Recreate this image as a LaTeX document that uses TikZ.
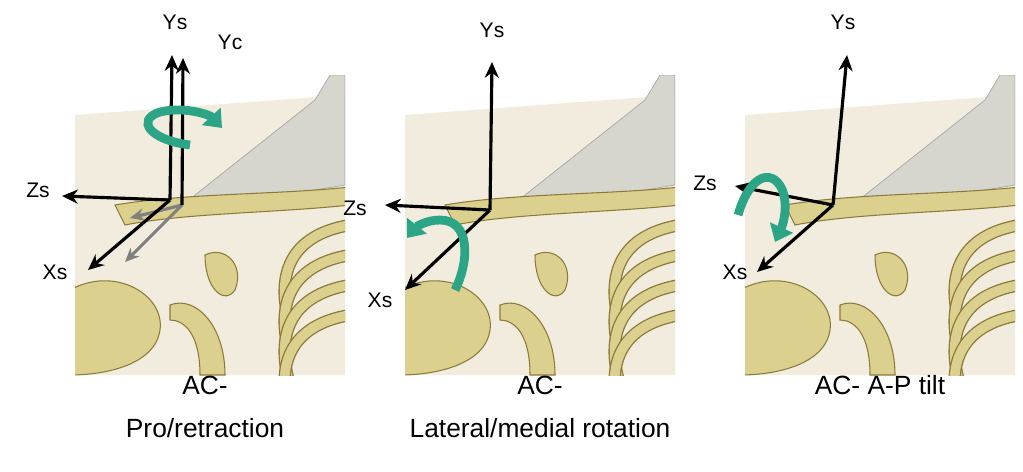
\documentclass[tikz,border=0pt]{standalone}
\usepackage{fontspec}
\setmainfont{Liberation Sans}
\usetikzlibrary{arrows.meta}
\definecolor{bone}{HTML}{DCD08E}
\definecolor{boneedge}{HTML}{8C7A3A}
\definecolor{scap}{HTML}{D6D6CE}
\definecolor{bg}{HTML}{F1ECDD}
\definecolor{rot}{HTML}{2BA585}
\tikzset{
 axis/.style={line width=1.8pt,-{Stealth[length=9pt,width=8pt]},black},
 gaxis/.style={line width=1.8pt,-{Stealth[length=8pt,width=7pt]},gray},
 lab/.style={font=\fontsize{12}{14}\selectfont},
 captext/.style={font=\fontsize{15}{18}\selectfont},
 rotarrow/.style={line width=5pt,rot,-{Triangle[length=9pt,width=14pt]}},
 bonefill/.style={fill=bone,draw=boneedge,line width=0.6pt}
}
\newcommand\bonepanel[1]{%
 \begin{scope}[shift={(#1,75)}]
  \clip (0,0) rectangle (270,300);
  \fill[bg] (0,40) -- (270,20) -- (270,300) -- (0,300) -- cycle;
  \filldraw[fill=scap,draw=gray!70] (110,128) -- (240,25) -- (255,0) -- (270,0) -- (270,110) -- (120,135) -- cycle;
  \filldraw[bonefill] (40,130) .. controls (110,118) and (200,120) .. (275,112) -- (275,130) .. controls (200,138) and (110,138) .. (50,150) -- cycle;
  \filldraw[bonefill] (-5,215) .. controls (40,190) and (90,220) .. (85,255) .. controls (80,290) and (30,300) .. (-5,300) -- cycle;
  \filldraw[bonefill] (130,180) .. controls (150,170) and (170,190) .. (160,215) .. controls (150,230) and (130,215) .. (130,180) -- cycle;
  \filldraw[bonefill] (95,230) .. controls (120,220) and (150,250) .. (150,300) -- (125,300) .. controls (125,260) and (110,245) .. (95,245) -- cycle;
  \foreach \d in {0,30,60,90}{
   \draw[boneedge,line width=7pt] (275,150+\d) .. controls (215,160+\d) and (200,200+\d) .. (215,250+\d);
   \draw[bone,line width=5.5pt] (275,150+\d) .. controls (215,160+\d) and (200,200+\d) .. (215,250+\d);}
 \end{scope}}
\begin{document}
\begin{tikzpicture}[x=0.02cm,y=-0.02cm]
\useasboundingbox (0,0) rectangle (1023,471);
\bonepanel{75}\bonepanel{405}\bonepanel{745}
% panel 1
\coordinate (o1) at (170,200);
\coordinate (o1b) at (182,205);
\node[lab] (ys1) at (175,22) {Ys};
\node[lab] (yc1) at (230,42) {Yc};
\node[lab] (zs1) at (38,190) {Zs};
\node[lab] (xs1) at (55,272) {Xs};
\coordinate (ys1t) at (172,55);
\coordinate (yc1t) at (183,58);
\coordinate (zs1t) at (62,196);
\coordinate (xs1t) at (88,270);
\coordinate (g1a) at (130,218);
\coordinate (g1b) at (125,262);
\draw[gaxis] (o1b) -- (g1a);
\draw[gaxis] (o1b) -- (g1b);
\draw[axis] (o1) -- (ys1t);
\draw[axis] (o1b) -- (yc1t);
\draw[axis] (o1) -- (zs1t);
\draw[axis] (o1) -- (xs1t);
\draw[rotarrow] (190,145) .. controls (150,140) and (135,120) .. (160,112) .. controls (185,106) and (210,115) .. (222,128);
% panel 2
\coordinate (o2) at (490,210);
\node[lab] (ys2) at (492,30) {Ys};
\node[lab] (zs2) at (355,208) {Zs};
\node[lab] (xs2) at (380,300) {Xs};
\coordinate (ys2t) at (492,62);
\coordinate (zs2t) at (385,205);
\coordinate (xs2t) at (405,290);
\draw[axis] (o2) -- (ys2t);
\draw[axis] (o2) -- (zs2t);
\draw[axis] (o2) -- (xs2t);
\draw[rotarrow] (455,290) .. controls (470,260) and (470,220) .. (440,220) .. controls (425,220) and (415,228) .. (407,238);
% panel 3
\coordinate (o3) at (833,205);
\node[lab] (ys3) at (843,22) {Ys};
\node[lab] (zs3) at (705,183) {Zs};
\node[lab] (xs3) at (735,272) {Xs};
\coordinate (ys3t) at (847,55);
\coordinate (zs3t) at (735,186);
\coordinate (xs3t) at (757,272);
\draw[axis] (o3) -- (ys3t);
\draw[axis] (o3) -- (zs3t);
\draw[axis] (o3) -- (xs3t);
\draw[rotarrow] (738,215) .. controls (745,190) and (760,170) .. (775,180) .. controls (790,192) and (785,220) .. (775,242);
% captions
\node[captext] (c1a) at (205,385) {AC-};
\node[captext] (c1b) at (205,428) {Pro/retraction};
\node[captext] (c2a) at (540,385) {AC-};
\node[captext] (c2b) at (540,428) {Lateral/medial rotation};
\node[captext] (c3a) at (880,385) {AC- A-P tilt};
\end{tikzpicture}
\end{document}
